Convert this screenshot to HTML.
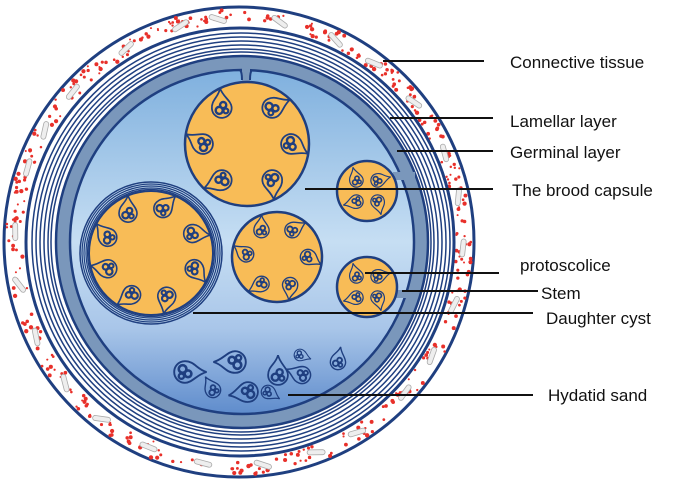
<!DOCTYPE html>
<html><head><meta charset="utf-8"><style>
html,body{margin:0;padding:0;background:#fff;width:685px;height:485px;overflow:hidden}
svg{display:block}
text{font-family:"Liberation Sans",Arial,sans-serif;font-size:17px;fill:#111}
</style></head><body>
<svg id="s" width="685" height="485" viewBox="0 0 685 485" xmlns="http://www.w3.org/2000/svg">
<defs>
<linearGradient id="cav" x1="0" y1="0" x2="0" y2="1">
<stop offset="0" stop-color="#7fb0de"/>
<stop offset="0.5" stop-color="#c6def3"/>
<stop offset="0.75" stop-color="#a9c6e9"/>
<stop offset="1" stop-color="#5f8ccc"/>
</linearGradient>
<g id="ps">
<path d="M18,0 C10,-2 8,-9 0,-9 C-6,-9 -9,-4 -9,0 C-9,5 -5,9 0,9 C6,9 10,2 18,0 Z" fill="none" stroke="#1f3f80" stroke-width="1.6"/>
<circle cx="-2" cy="-2.5" r="3.2" fill="none" stroke="#1f3f80" stroke-width="2.2"/>
<circle cx="2.5" cy="1.5" r="2.8" fill="none" stroke="#1f3f80" stroke-width="2.2"/>
<circle cx="-3" cy="3.5" r="2.2" fill="none" stroke="#1f3f80" stroke-width="2"/>
</g>
</defs>
<circle cx="239" cy="242" r="235" fill="#fff" stroke="#1f3f80" stroke-width="3"/>
<g id="dots"></g>
<circle cx="240" cy="242" r="214" fill="#fff" stroke="#1f3f80" stroke-width="3"/>
<g fill="none" stroke="#1f3f80" stroke-width="1.5">
<circle cx="241" cy="242" r="209"/><circle cx="241" cy="242" r="205"/><circle cx="241" cy="242" r="201"/>
<circle cx="241" cy="242" r="197"/><circle cx="241" cy="242" r="193"/><circle cx="241" cy="242" r="190"/>
</g>
<circle cx="242" cy="242" r="186" fill="#7a97bb" stroke="#1f3f80" stroke-width="2.5"/>
<circle cx="242" cy="242" r="172" fill="url(#cav)" stroke="#1f3f80" stroke-width="2.5"/>
<rect x="242" y="66" width="8" height="20" fill="#7a97bb"/>
<path d="M240,70 Q242,72 242,80 M252,70 Q250,72 250,80" stroke="#1f3f80" stroke-width="2" fill="none"/>
<rect x="393" y="172" width="22" height="8" fill="#7a97bb"/>
<rect x="393" y="290" width="22" height="8" fill="#7a97bb"/>
<circle cx="151" cy="253" r="71" fill="#c6def3" stroke="#1f3f80" stroke-width="1.5"/>
<g fill="none" stroke="#1f3f80" stroke-width="1.2">
<circle cx="151" cy="253" r="69"/><circle cx="151" cy="253" r="67"/><circle cx="151" cy="253" r="65"/><circle cx="151" cy="253" r="63.5"/>
</g>
<circle cx="151" cy="253" r="62" fill="#f8bc57" stroke="#1f3f80" stroke-width="2"/>
<circle cx="247" cy="144" r="62" fill="#f8bc57" stroke="#1f3f80" stroke-width="2.5"/>
<circle cx="277" cy="257" r="45" fill="#f8bc57" stroke="#1f3f80" stroke-width="2.5"/>
<circle cx="367" cy="191" r="30" fill="#f8bc57" stroke="#1f3f80" stroke-width="2.5"/>
<circle cx="367" cy="287" r="30" fill="#f8bc57" stroke="#1f3f80" stroke-width="2.5"/>
<g id="pss"></g>
<g stroke="#111" stroke-width="2">
<line x1="383" y1="61" x2="484" y2="61"/>
<line x1="390" y1="118" x2="493" y2="118"/>
<line x1="397" y1="151" x2="493" y2="151"/>
<line x1="305" y1="189" x2="493" y2="189"/>
<line x1="365" y1="273" x2="499" y2="273"/>
<line x1="402" y1="291" x2="538" y2="291"/>
<line x1="193" y1="313" x2="533" y2="313"/>
<line x1="288" y1="395" x2="533" y2="395"/>
</g>
<text x="510" y="68">Connective tissue</text>
<text x="510" y="127">Lamellar layer</text>
<text x="510" y="158">Germinal layer</text>
<text x="512" y="196">The brood capsule</text>
<text x="520" y="271">protoscolice</text>
<text x="541" y="299">Stem</text>
<text x="546" y="324">Daughter cyst</text>
<text x="548" y="401">Hydatid sand</text>
</svg>
<script>
var NS="http://www.w3.org/2000/svg";
var seed=7;function rnd(){seed=(seed*16807)%2147483647;return seed/2147483647;}
var d=document.getElementById("dots");
for(var i=0;i<380;i++){var a=rnd()*Math.PI*2,r=217+rnd()*16;
var c=document.createElementNS(NS,"circle");c.setAttribute("cx",239+r*Math.cos(a));c.setAttribute("cy",242+r*Math.sin(a));
c.setAttribute("r",1+rnd()*1.2);c.setAttribute("fill","#e8302a");d.appendChild(c);}
for(var i=0;i<26;i++){var a=i/26*Math.PI*2+rnd()*0.1,r=224;
var e=document.createElementNS(NS,"rect");var x=239+r*Math.cos(a),y=242+r*Math.sin(a);
e.setAttribute("x",x-9);e.setAttribute("y",y-2.5);e.setAttribute("width",18);e.setAttribute("height",5);e.setAttribute("rx",2.5);
e.setAttribute("fill","#eee");e.setAttribute("stroke","#aaa");e.setAttribute("stroke-width","0.8");
e.setAttribute("transform","rotate("+(a*180/Math.PI+90+(rnd()-0.5)*60)+" "+x+" "+y+")");d.appendChild(e);}
var g=document.getElementById("pss");
function put(x,y,rot,s){var u=document.createElementNS(NS,"use");u.setAttribute("href","#ps");
u.setAttribute("transform","translate("+x+","+y+") rotate("+rot+") scale("+s+")");g.appendChild(u);}
function cap(cx,cy,rr,angs,s){angs.forEach(function(a){var t=a*Math.PI/180;put(cx+rr*Math.cos(t),cy+rr*Math.sin(t),a+30,s);});}
cap(247,144,44,[-125,-55,180,0,125,55],1.1);
cap(151,253,46,[-120,-75,-25,20,70,115,160,200],1.0);
cap(277,257,31,[-120,-60,0,65,120,185],0.85);
cap(367,191,15,[-135,-45,45,135],0.75);
cap(367,287,15,[-135,-45,45,135],0.75);
[[185,372,0,1.2],[235,362,180,1.2],[248,392,170,1.1],[278,375,-90,1.1],[302,375,200,0.95],[213,390,-120,0.85],[268,392,30,0.75],[300,355,20,0.65],[338,362,-80,0.85]].forEach(function(p){put(p[0],p[1],p[2],p[3]);});
</script>
</body></html>
